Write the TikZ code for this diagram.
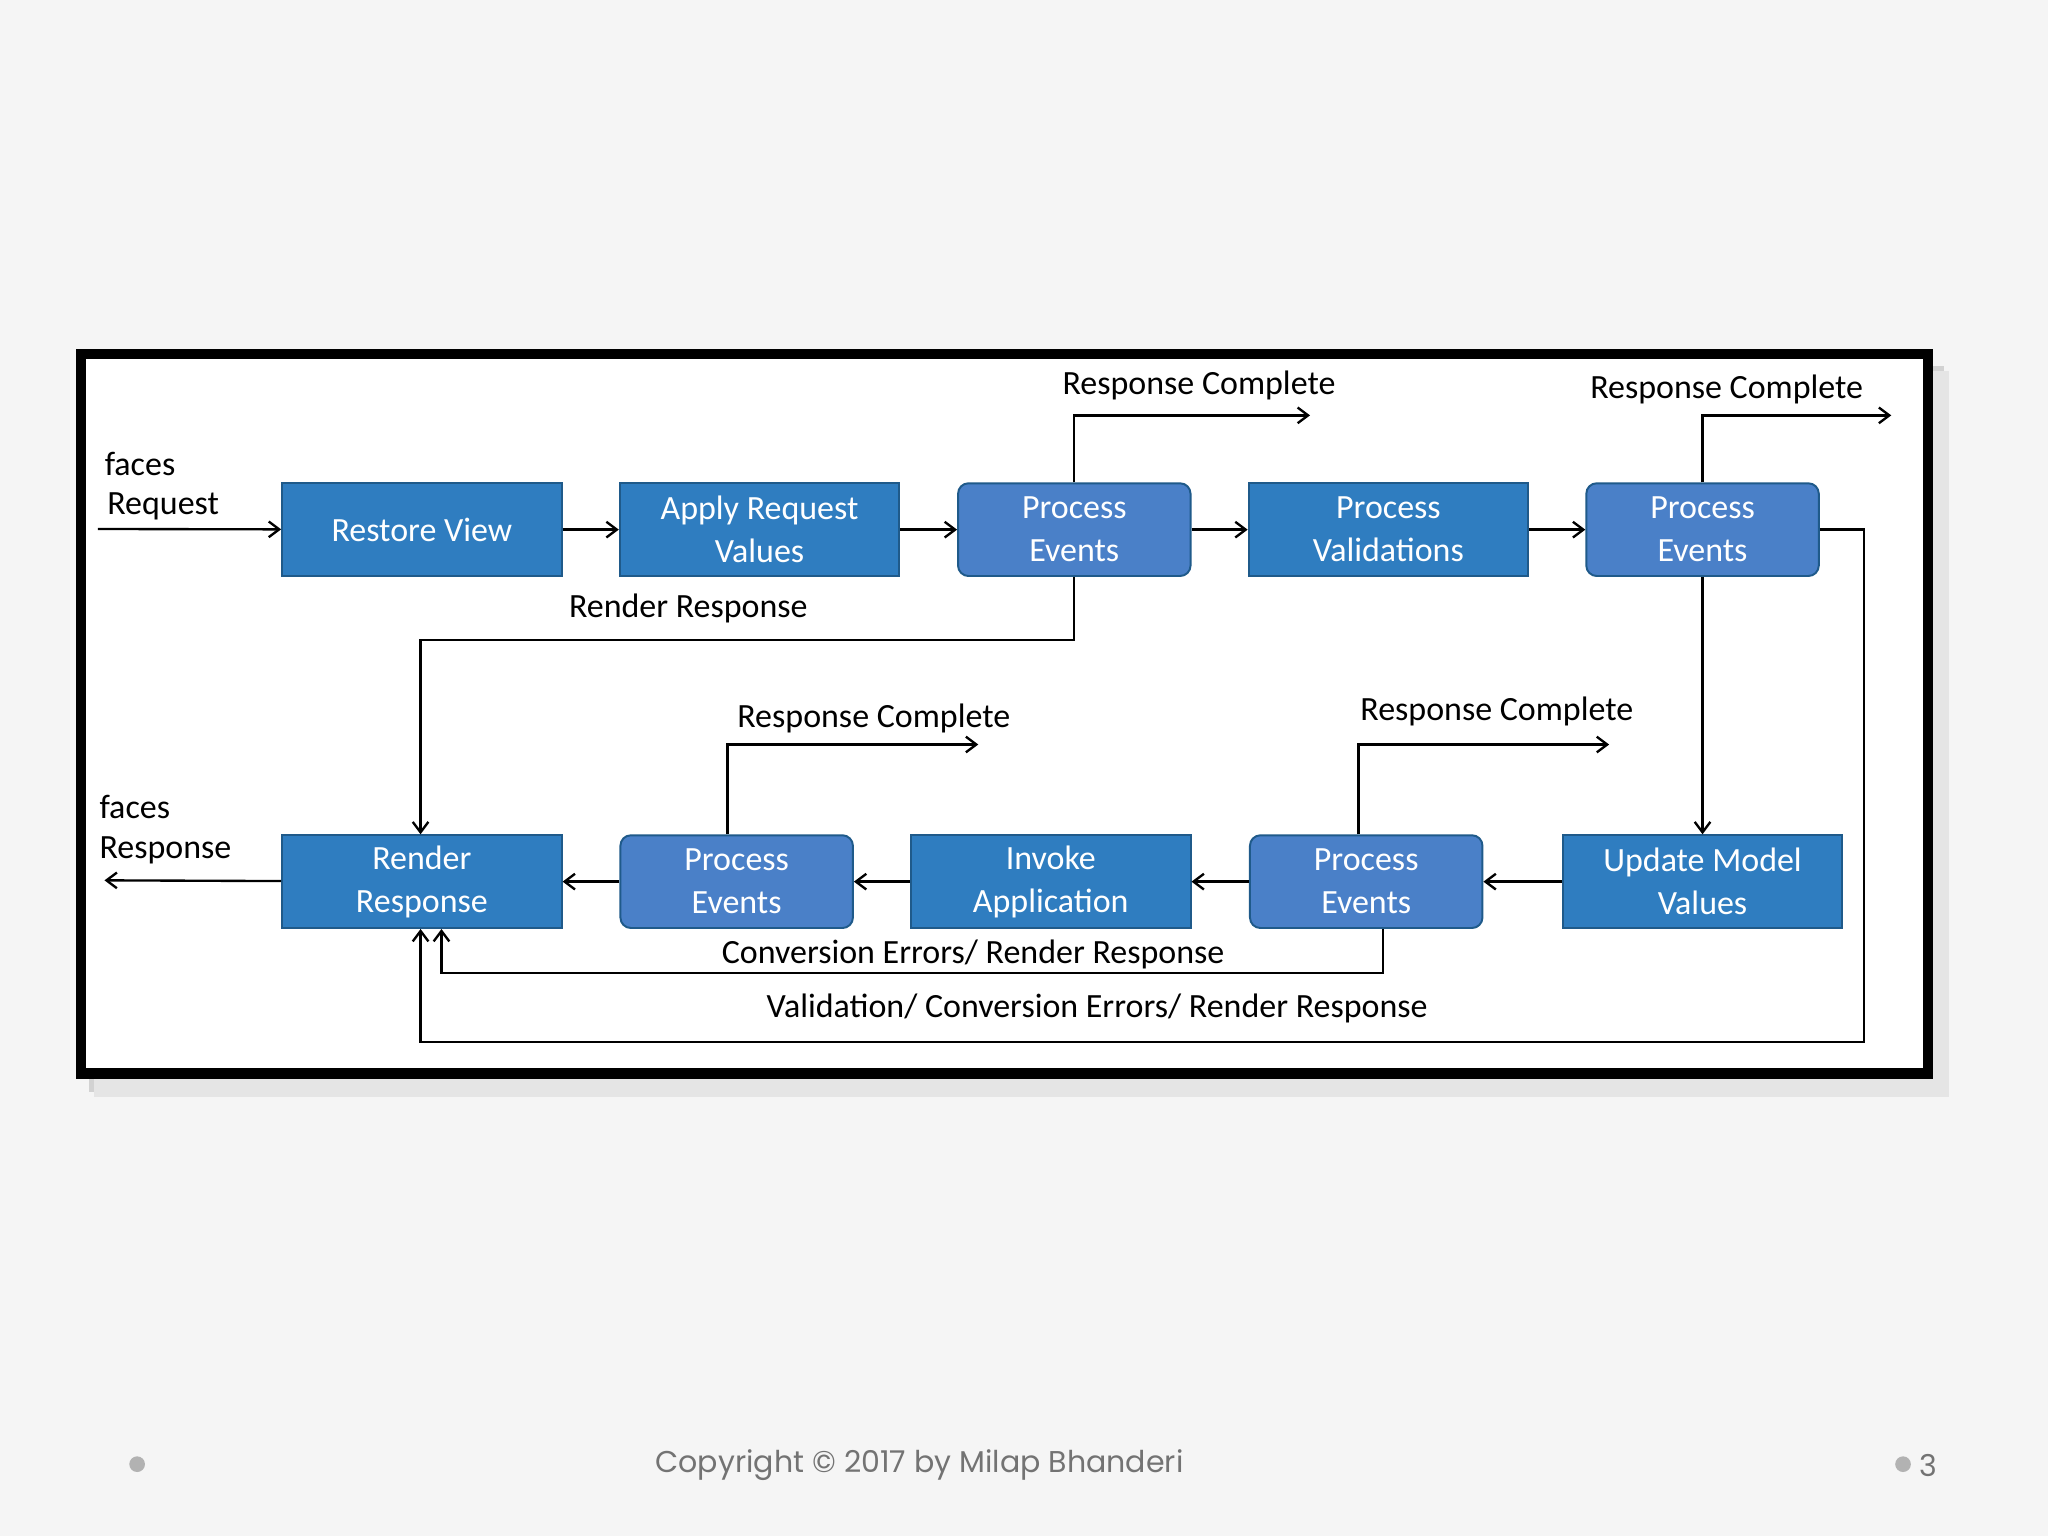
\documentclass[tikz,border=0pt]{standalone}
\usepackage{fontspec}
\setmainfont{Carlito}
\newfontfamily\footfont{Poppins}
\usetikzlibrary{arrows.meta,shadows}
\definecolor{boxblue}{HTML}{2F7DC0}
\definecolor{evblue}{HTML}{4A80C8}
\definecolor{boxedge}{HTML}{1F5A8A}
\begin{document}
\begin{tikzpicture}[x=1pt,y=-1pt,
  box/.style={draw=boxedge,line width=1.5pt,fill=boxblue,text=white,minimum width=214pt,minimum height=71pt,align=center,font=\fontsize{26}{33}\selectfont,inner sep=0pt},
  ev/.style={box,fill=evblue,minimum width=178pt,rounded corners=8pt},
  lbl/.style={font=\fontsize{26}{30}\selectfont,text=black,inner sep=0pt},
  ar/.style={line width=1.8pt,-{Straight Barb[length=8pt,width=12pt]}},
  ln/.style={line width=1.8pt}]
\useasboundingbox (0,0) rectangle (1568,1176);
\fill[gray!8] (0,0) rectangle (1568,1176);
\fill[gray!35] (68,280) rectangle (1488,836);
\fill[gray!20] (72,284) rectangle (1492,840);
\fill[white,draw=black,line width=8pt] (62,271) rectangle (1476,822);
\node[box] (rv) at (323,405.5) {Restore View};
\node[box] (ar) at (581.5,405.5) {Apply Request\\Values};
\node[ev] (pe1) at (822.5,405.5) {Process\\Events};
\node[box] (pv) at (1063,405.5) {Process\\Validations};
\node[ev] (pe2) at (1303.5,405.5) {Process\\Events};
\node[box] (rr) at (323,675) {Render\\Response};
\node[ev] (pe3) at (564,675) {Process\\Events};
\node[box] (ia) at (804.5,675) {Invoke\\Application};
\node[ev] (pe4) at (1046,675) {Process\\Events};
\node[box] (um) at (1303.5,675) {Update Model\\Values};
\coordinate (fin) at (75,405);
\coordinate (fout) at (80,674);
\node[lbl,anchor=west] (t1) at (80,355) {faces};
\node[lbl,anchor=west] (t2) at (82,388) {Request};
\node[lbl,anchor=west] (t3) at (76,618) {faces};
\node[lbl,anchor=west] (t4) at (76,651) {Response};
\draw[ar] (fin) -- (rv);
\draw[ar] (rv) -- (ar);
\draw[ar] (ar) -- (pe1);
\draw[ar] (pe1) -- (pv);
\draw[ar] (pv) -- (pe2);
\draw[ar] (pe2) -- (um);
\draw[ar] (um) -- (pe4);
\draw[ar] (pe4) -- (ia);
\draw[ar] (ia) -- (pe3);
\draw[ar] (pe3) -- (rr);
\draw[ar] (rr) -- (fout);
\coordinate (c1) at (1003,318);
\coordinate (c2) at (1448,318);
\coordinate (c3) at (749,570);
\coordinate (c4) at (1232,570);
\draw[ar] (pe1.north) |- (c1);
\draw[ar] (pe2.north) |- (c2);
\draw[ar] (pe3.north -| 557,0) |- (c3);
\draw[ar] (pe4.north -| 1040,0) |- (c4);
\node[lbl] at (918,295) {Response Complete};
\node[lbl] at (1322,298) {Response Complete};
\node[lbl] at (669,550) {Response Complete};
\node[lbl] at (1146,545) {Response Complete};
\draw[ar] (pe1.south) -- (822.5,490) -- (322,490) -- (rr.north -| 322,0);
\node[lbl] at (527,466) {Render Response};
\draw[ar] (pe2.east) -- (1427,405.5) -- (1427,798) -- (322,798) -- (rr.south -| 322,0);
\node[lbl] at (840,772) {Validation/ Conversion Errors/ Render Response};
\draw[ar] (pe4.south -| 1059,0) -- (1059,745) -- (338,745) -- (rr.south -| 338,0);
\node[lbl] at (745,731) {Conversion Errors/ Render Response};
\fill[gray!60] (105,1121) circle (6);
\fill[gray!60] (1457,1121) circle (6);
\node[font=\footfont\fontsize{23}{26}\selectfont,text=gray!90!black] at (704,1122) {Copyright © 2017 by Milap Bhanderi};
\node[font=\footfont\fontsize{23}{26}\selectfont,text=gray!90!black] at (1476,1122) {3};
\end{tikzpicture}
\end{document}
